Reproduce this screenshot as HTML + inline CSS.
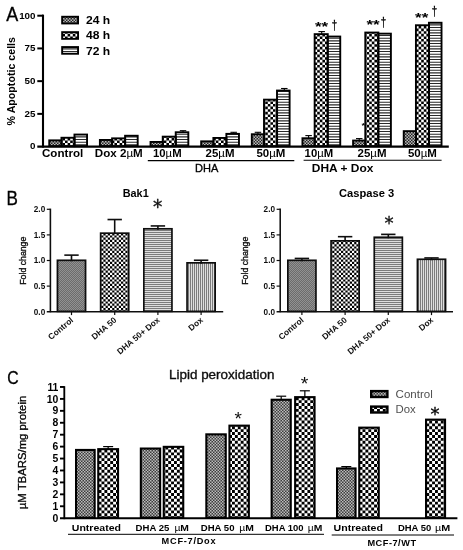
<!DOCTYPE html>
<html lang="en"><head><meta charset="utf-8"><title>Figure</title>
<style>html,body{margin:0;padding:0;background:#fff}body{width:463px;height:550px;overflow:hidden}svg{display:block;font-family:"Liberation Sans",Arial,sans-serif}</style></head><body>
<svg width="463" height="550" viewBox="0 0 463 550">
<defs>
<pattern id="a24" x="0" y="0" width="3" height="3" patternUnits="userSpaceOnUse"><rect width="3" height="3" fill="#262626"/><path d="M0 0h1.5v1.5h-1.5zM1.5 1.5h1.5v1.5h-1.5z" fill="#b8b8b8"/></pattern>
<pattern id="a48" x="0" y="0" width="26" height="26" patternUnits="userSpaceOnUse"><rect width="26" height="26" fill="#000"/><path d="M0 0h2.6v2.6h-2.6zM5.2 0h2.6v2.6h-2.6zM10.4 0h2.6v2.6h-2.6zM15.6 0h2.6v2.6h-2.6zM20.8 0h2.6v2.6h-2.6zM2.6 2.6h2.6v2.6h-2.6zM7.8 2.6h2.6v2.6h-2.6zM13 2.6h2.6v2.6h-2.6zM18.2 2.6h2.6v2.6h-2.6zM23.4 2.6h2.6v2.6h-2.6zM0 5.2h2.6v2.6h-2.6zM5.2 5.2h2.6v2.6h-2.6zM10.4 5.2h2.6v2.6h-2.6zM15.6 5.2h2.6v2.6h-2.6zM20.8 5.2h2.6v2.6h-2.6zM2.6 7.8h2.6v2.6h-2.6zM7.8 7.8h2.6v2.6h-2.6zM13 7.8h2.6v2.6h-2.6zM18.2 7.8h2.6v2.6h-2.6zM23.4 7.8h2.6v2.6h-2.6zM0 10.4h2.6v2.6h-2.6zM5.2 10.4h2.6v2.6h-2.6zM10.4 10.4h2.6v2.6h-2.6zM15.6 10.4h2.6v2.6h-2.6zM20.8 10.4h2.6v2.6h-2.6zM2.6 13h2.6v2.6h-2.6zM7.8 13h2.6v2.6h-2.6zM13 13h2.6v2.6h-2.6zM18.2 13h2.6v2.6h-2.6zM23.4 13h2.6v2.6h-2.6zM0 15.6h2.6v2.6h-2.6zM5.2 15.6h2.6v2.6h-2.6zM10.4 15.6h2.6v2.6h-2.6zM15.6 15.6h2.6v2.6h-2.6zM20.8 15.6h2.6v2.6h-2.6zM2.6 18.2h2.6v2.6h-2.6zM7.8 18.2h2.6v2.6h-2.6zM13 18.2h2.6v2.6h-2.6zM18.2 18.2h2.6v2.6h-2.6zM23.4 18.2h2.6v2.6h-2.6zM0 20.8h2.6v2.6h-2.6zM5.2 20.8h2.6v2.6h-2.6zM10.4 20.8h2.6v2.6h-2.6zM15.6 20.8h2.6v2.6h-2.6zM20.8 20.8h2.6v2.6h-2.6zM2.6 23.4h2.6v2.6h-2.6zM7.8 23.4h2.6v2.6h-2.6zM13 23.4h2.6v2.6h-2.6zM18.2 23.4h2.6v2.6h-2.6zM23.4 23.4h2.6v2.6h-2.6z" fill="#fff"/></pattern>
<pattern id="a72" width="8" height="8" patternUnits="userSpaceOnUse"><rect width="8" height="8" fill="#fff"/><path d="M0 0.3h8v1.15h-8zM0 2.97h8v1.15h-8zM0 5.63h8v1.15h-8z" fill="#2a2a2a"/></pattern>
<pattern id="b1" x="0" y="0" width="2" height="2" patternUnits="userSpaceOnUse"><rect width="2" height="2" fill="#6c6c6c"/><path d="M0 0h1v1h-1zM1 1h1v1h-1z" fill="#929292"/></pattern>
<pattern id="b2" x="0" y="0" width="22" height="22" patternUnits="userSpaceOnUse"><rect width="22" height="22" fill="#000"/><path d="M0 0h2.2v2.2h-2.2zM4.4 0h2.2v2.2h-2.2zM8.8 0h2.2v2.2h-2.2zM13.2 0h2.2v2.2h-2.2zM17.6 0h2.2v2.2h-2.2zM2.2 2.2h2.2v2.2h-2.2zM6.6 2.2h2.2v2.2h-2.2zM11 2.2h2.2v2.2h-2.2zM15.4 2.2h2.2v2.2h-2.2zM19.8 2.2h2.2v2.2h-2.2zM0 4.4h2.2v2.2h-2.2zM4.4 4.4h2.2v2.2h-2.2zM8.8 4.4h2.2v2.2h-2.2zM13.2 4.4h2.2v2.2h-2.2zM17.6 4.4h2.2v2.2h-2.2zM2.2 6.6h2.2v2.2h-2.2zM6.6 6.6h2.2v2.2h-2.2zM11 6.6h2.2v2.2h-2.2zM15.4 6.6h2.2v2.2h-2.2zM19.8 6.6h2.2v2.2h-2.2zM0 8.8h2.2v2.2h-2.2zM4.4 8.8h2.2v2.2h-2.2zM8.8 8.8h2.2v2.2h-2.2zM13.2 8.8h2.2v2.2h-2.2zM17.6 8.8h2.2v2.2h-2.2zM2.2 11h2.2v2.2h-2.2zM6.6 11h2.2v2.2h-2.2zM11 11h2.2v2.2h-2.2zM15.4 11h2.2v2.2h-2.2zM19.8 11h2.2v2.2h-2.2zM0 13.2h2.2v2.2h-2.2zM4.4 13.2h2.2v2.2h-2.2zM8.8 13.2h2.2v2.2h-2.2zM13.2 13.2h2.2v2.2h-2.2zM17.6 13.2h2.2v2.2h-2.2zM2.2 15.4h2.2v2.2h-2.2zM6.6 15.4h2.2v2.2h-2.2zM11 15.4h2.2v2.2h-2.2zM15.4 15.4h2.2v2.2h-2.2zM19.8 15.4h2.2v2.2h-2.2zM0 17.6h2.2v2.2h-2.2zM4.4 17.6h2.2v2.2h-2.2zM8.8 17.6h2.2v2.2h-2.2zM13.2 17.6h2.2v2.2h-2.2zM17.6 17.6h2.2v2.2h-2.2zM2.2 19.8h2.2v2.2h-2.2zM6.6 19.8h2.2v2.2h-2.2zM11 19.8h2.2v2.2h-2.2zM15.4 19.8h2.2v2.2h-2.2zM19.8 19.8h2.2v2.2h-2.2z" fill="#fff"/></pattern>
<pattern id="b3" width="8" height="2" patternUnits="userSpaceOnUse"><rect width="8" height="2" fill="#dedede"/><path d="M0 0h8v1h-8z" fill="#7c7c7c"/></pattern>
<pattern id="b4" width="2" height="8" patternUnits="userSpaceOnUse"><rect width="2" height="8" fill="#dedede"/><path d="M0 0v8h1v-8z" fill="#7c7c7c"/></pattern>
<pattern id="c1" x="0" y="0" width="3" height="3" patternUnits="userSpaceOnUse"><rect width="3" height="3" fill="#3c3c3c"/><path d="M0 0h1.5v1.5h-1.5zM1.5 1.5h1.5v1.5h-1.5z" fill="#bcbcbc"/></pattern>
<pattern id="c2" x="0" y="0" width="29" height="29" patternUnits="userSpaceOnUse"><rect width="29" height="29" fill="#000"/><path d="M0 0h2.9v2.9h-2.9zM5.8 0h2.9v2.9h-2.9zM11.6 0h2.9v2.9h-2.9zM17.4 0h2.9v2.9h-2.9zM23.2 0h2.9v2.9h-2.9zM2.9 2.9h2.9v2.9h-2.9zM8.7 2.9h2.9v2.9h-2.9zM14.5 2.9h2.9v2.9h-2.9zM20.3 2.9h2.9v2.9h-2.9zM26.1 2.9h2.9v2.9h-2.9zM0 5.8h2.9v2.9h-2.9zM5.8 5.8h2.9v2.9h-2.9zM11.6 5.8h2.9v2.9h-2.9zM17.4 5.8h2.9v2.9h-2.9zM23.2 5.8h2.9v2.9h-2.9zM2.9 8.7h2.9v2.9h-2.9zM8.7 8.7h2.9v2.9h-2.9zM14.5 8.7h2.9v2.9h-2.9zM20.3 8.7h2.9v2.9h-2.9zM26.1 8.7h2.9v2.9h-2.9zM0 11.6h2.9v2.9h-2.9zM5.8 11.6h2.9v2.9h-2.9zM11.6 11.6h2.9v2.9h-2.9zM17.4 11.6h2.9v2.9h-2.9zM23.2 11.6h2.9v2.9h-2.9zM2.9 14.5h2.9v2.9h-2.9zM8.7 14.5h2.9v2.9h-2.9zM14.5 14.5h2.9v2.9h-2.9zM20.3 14.5h2.9v2.9h-2.9zM26.1 14.5h2.9v2.9h-2.9zM0 17.4h2.9v2.9h-2.9zM5.8 17.4h2.9v2.9h-2.9zM11.6 17.4h2.9v2.9h-2.9zM17.4 17.4h2.9v2.9h-2.9zM23.2 17.4h2.9v2.9h-2.9zM2.9 20.3h2.9v2.9h-2.9zM8.7 20.3h2.9v2.9h-2.9zM14.5 20.3h2.9v2.9h-2.9zM20.3 20.3h2.9v2.9h-2.9zM26.1 20.3h2.9v2.9h-2.9zM0 23.2h2.9v2.9h-2.9zM5.8 23.2h2.9v2.9h-2.9zM11.6 23.2h2.9v2.9h-2.9zM17.4 23.2h2.9v2.9h-2.9zM23.2 23.2h2.9v2.9h-2.9zM2.9 26.1h2.9v2.9h-2.9zM8.7 26.1h2.9v2.9h-2.9zM14.5 26.1h2.9v2.9h-2.9zM20.3 26.1h2.9v2.9h-2.9zM26.1 26.1h2.9v2.9h-2.9z" fill="#fff"/></pattern>
<filter id="soft" filterUnits="userSpaceOnUse" x="0" y="0" width="463" height="550"><feGaussianBlur stdDeviation="0.45"/></filter>
<filter id="softf" filterUnits="userSpaceOnUse" x="0" y="0" width="463" height="550"><feGaussianBlur stdDeviation="0.3"/></filter>
</defs>
<rect width="463" height="550" fill="#fff"/>
<g id="fills" filter="url(#softf)">
<rect x="49.25" y="140.35" width="12.3" height="5.8" fill="url(#a24)"/>
<rect x="74.45" y="134.55" width="12.6" height="11.6" fill="url(#a72)"/>
<rect x="61.45" y="137.75" width="13.1" height="8.4" fill="url(#a48)"/>
<rect x="99.89" y="139.95" width="12.3" height="6.2" fill="url(#a24)"/>
<rect x="125.09" y="135.75" width="12.6" height="10.4" fill="url(#a72)"/>
<rect x="112.09" y="138.35" width="13.1" height="7.8" fill="url(#a48)"/>
<rect x="150.53" y="141.95" width="12.3" height="4.2" fill="url(#a24)"/>
<rect x="175.73" y="132.25" width="12.6" height="13.9" fill="url(#a72)"/>
<rect x="162.73" y="136.65" width="13.1" height="9.5" fill="url(#a48)"/>
<rect x="201.17" y="141.35" width="12.3" height="4.8" fill="url(#a24)"/>
<rect x="226.37" y="133.85" width="12.6" height="12.3" fill="url(#a72)"/>
<rect x="213.37" y="137.95" width="13.1" height="8.2" fill="url(#a48)"/>
<rect x="251.81" y="134.25" width="12.3" height="11.9" fill="url(#a24)"/>
<rect x="277.01" y="90.55" width="12.6" height="55.6" fill="url(#a72)"/>
<rect x="264.01" y="99.65" width="13.1" height="46.5" fill="url(#a48)"/>
<rect x="302.45" y="138.25" width="12.3" height="7.9" fill="url(#a24)"/>
<rect x="327.65" y="36.55" width="12.6" height="109.6" fill="url(#a72)"/>
<rect x="314.65" y="34.15" width="13.1" height="112" fill="url(#a48)"/>
<rect x="353.09" y="140.55" width="12.3" height="5.6" fill="url(#a24)"/>
<rect x="378.29" y="33.65" width="12.6" height="112.5" fill="url(#a72)"/>
<rect x="365.29" y="32.55" width="13.1" height="113.6" fill="url(#a48)"/>
<rect x="403.73" y="131.15" width="12.3" height="15" fill="url(#a24)"/>
<rect x="428.93" y="22.75" width="12.6" height="123.4" fill="url(#a72)"/>
<rect x="415.93" y="25.25" width="13.1" height="120.9" fill="url(#a48)"/>
<rect x="62.15" y="16.75" width="15.9" height="6.7" fill="url(#a24)"/>
<rect x="62.15" y="32.15" width="15.9" height="6.7" fill="url(#a48)"/>
<rect x="62.15" y="47.05" width="15.9" height="6.7" fill="url(#a72)"/>
<rect x="57.45" y="260.29" width="28.1" height="51.06" fill="url(#b1)"/>
<rect x="100.65" y="233.16" width="28.1" height="78.19" fill="url(#b2)"/>
<rect x="143.85" y="228.81" width="28.1" height="82.54" fill="url(#b3)"/>
<rect x="187.05" y="262.85" width="28.1" height="48.5" fill="url(#b4)"/>
<rect x="287.85" y="260.29" width="28.1" height="51.06" fill="url(#b1)"/>
<rect x="331.05" y="240.84" width="28.1" height="70.51" fill="url(#b2)"/>
<rect x="374.25" y="237.25" width="28.1" height="74.1" fill="url(#b3)"/>
<rect x="417.45" y="259.27" width="28.1" height="52.08" fill="url(#b4)"/>
<rect x="76.05" y="449.95" width="18.6" height="67.7" fill="url(#c1)"/>
<rect x="98.25" y="449.15" width="19.8" height="68.5" fill="url(#c2)"/>
<rect x="140.85" y="448.55" width="19.3" height="69.1" fill="url(#c1)"/>
<rect x="163.75" y="446.85" width="19.5" height="70.8" fill="url(#c2)"/>
<rect x="206.35" y="434.35" width="19.4" height="83.3" fill="url(#c1)"/>
<rect x="229.45" y="425.65" width="19.4" height="92" fill="url(#c2)"/>
<rect x="271.65" y="399.75" width="19.1" height="117.9" fill="url(#c1)"/>
<rect x="295.15" y="397.15" width="19.4" height="120.5" fill="url(#c2)"/>
<rect x="337.05" y="468.45" width="18.5" height="49.2" fill="url(#c1)"/>
<rect x="359.25" y="427.65" width="19.5" height="90" fill="url(#c2)"/>
<rect x="426.05" y="419.65" width="19" height="98" fill="url(#c2)"/>
<rect x="371.2" y="391.1" width="16.2" height="5.9" fill="url(#c1)"/>
<rect x="371.2" y="406.6" width="16.2" height="5.9" fill="url(#c2)"/>
</g>
<g filter="url(#soft)">
<g id="panelA">
<text x="6.3" y="20.9" font-size="19.5" textLength="12" lengthAdjust="spacingAndGlyphs" stroke="#000" stroke-width="0.3">A</text>
<rect x="49.25" y="140.35" width="12.3" height="5.8" fill="none" stroke="#000" stroke-width="1.9"/>
<rect x="74.45" y="134.55" width="12.6" height="11.6" fill="none" stroke="#000" stroke-width="1.9"/>
<rect x="61.45" y="137.75" width="13.1" height="8.4" fill="none" stroke="#000" stroke-width="1.9"/>
<rect x="99.89" y="139.95" width="12.3" height="6.2" fill="none" stroke="#000" stroke-width="1.9"/>
<rect x="125.09" y="135.75" width="12.6" height="10.4" fill="none" stroke="#000" stroke-width="1.9"/>
<rect x="112.09" y="138.35" width="13.1" height="7.8" fill="none" stroke="#000" stroke-width="1.9"/>
<line x1="183.03" y1="132.3" x2="183.03" y2="130.7" stroke="#000" stroke-width="1.1"/>
<line x1="179.78" y1="130.7" x2="186.28" y2="130.7" stroke="#000" stroke-width="1.1"/>
<rect x="150.53" y="141.95" width="12.3" height="4.2" fill="none" stroke="#000" stroke-width="1.9"/>
<rect x="175.73" y="132.25" width="12.6" height="13.9" fill="none" stroke="#000" stroke-width="1.9"/>
<rect x="162.73" y="136.65" width="13.1" height="9.5" fill="none" stroke="#000" stroke-width="1.9"/>
<line x1="233.67" y1="133.9" x2="233.67" y2="132.3" stroke="#000" stroke-width="1.1"/>
<line x1="230.42" y1="132.3" x2="236.92" y2="132.3" stroke="#000" stroke-width="1.1"/>
<rect x="201.17" y="141.35" width="12.3" height="4.8" fill="none" stroke="#000" stroke-width="1.9"/>
<rect x="226.37" y="133.85" width="12.6" height="12.3" fill="none" stroke="#000" stroke-width="1.9"/>
<rect x="213.37" y="137.95" width="13.1" height="8.2" fill="none" stroke="#000" stroke-width="1.9"/>
<line x1="257.96" y1="134.3" x2="257.96" y2="132.3" stroke="#000" stroke-width="1.1"/>
<line x1="254.71" y1="132.3" x2="261.21" y2="132.3" stroke="#000" stroke-width="1.1"/>
<line x1="284.31" y1="90.6" x2="284.31" y2="88.5" stroke="#000" stroke-width="1.1"/>
<line x1="281.06" y1="88.5" x2="287.56" y2="88.5" stroke="#000" stroke-width="1.1"/>
<rect x="251.81" y="134.25" width="12.3" height="11.9" fill="none" stroke="#000" stroke-width="1.9"/>
<rect x="277.01" y="90.55" width="12.6" height="55.6" fill="none" stroke="#000" stroke-width="1.9"/>
<rect x="264.01" y="99.65" width="13.1" height="46.5" fill="none" stroke="#000" stroke-width="1.9"/>
<line x1="308.6" y1="138.3" x2="308.6" y2="135.6" stroke="#000" stroke-width="1.1"/>
<line x1="305.35" y1="135.6" x2="311.85" y2="135.6" stroke="#000" stroke-width="1.1"/>
<line x1="321.7" y1="34.2" x2="321.7" y2="31.6" stroke="#000" stroke-width="1.1"/>
<line x1="318.45" y1="31.6" x2="324.95" y2="31.6" stroke="#000" stroke-width="1.1"/>
<rect x="302.45" y="138.25" width="12.3" height="7.9" fill="none" stroke="#000" stroke-width="1.9"/>
<rect x="327.65" y="36.55" width="12.6" height="109.6" fill="none" stroke="#000" stroke-width="1.9"/>
<rect x="314.65" y="34.15" width="13.1" height="112" fill="none" stroke="#000" stroke-width="1.9"/>
<line x1="359.24" y1="140.6" x2="359.24" y2="138.6" stroke="#000" stroke-width="1.1"/>
<line x1="355.99" y1="138.6" x2="362.49" y2="138.6" stroke="#000" stroke-width="1.1"/>
<rect x="353.09" y="140.55" width="12.3" height="5.6" fill="none" stroke="#000" stroke-width="1.9"/>
<rect x="378.29" y="33.65" width="12.6" height="112.5" fill="none" stroke="#000" stroke-width="1.9"/>
<rect x="365.29" y="32.55" width="13.1" height="113.6" fill="none" stroke="#000" stroke-width="1.9"/>
<rect x="403.73" y="131.15" width="12.3" height="15" fill="none" stroke="#000" stroke-width="1.9"/>
<rect x="428.93" y="22.75" width="12.6" height="123.4" fill="none" stroke="#000" stroke-width="1.9"/>
<rect x="415.93" y="25.25" width="13.1" height="120.9" fill="none" stroke="#000" stroke-width="1.9"/>
<line x1="43" y1="14.6" x2="43" y2="147.6" stroke="#000" stroke-width="2.1"/>
<line x1="37.3" y1="146.6" x2="448.8" y2="146.6" stroke="#000" stroke-width="2.1"/>
<line x1="37.3" y1="113.88" x2="43" y2="113.88" stroke="#000" stroke-width="2"/>
<line x1="37.3" y1="81.15" x2="43" y2="81.15" stroke="#000" stroke-width="2"/>
<line x1="37.3" y1="48.42" x2="43" y2="48.42" stroke="#000" stroke-width="2"/>
<line x1="37.3" y1="15.7" x2="43" y2="15.7" stroke="#000" stroke-width="2"/>
<text x="35.5" y="149.4" font-size="9.8" font-weight="bold" text-anchor="end">0</text>
<text x="35.5" y="116.67" font-size="9.8" font-weight="bold" text-anchor="end">25</text>
<text x="35.5" y="83.95" font-size="9.8" font-weight="bold" text-anchor="end">50</text>
<text x="35.5" y="51.22" font-size="9.8" font-weight="bold" text-anchor="end">75</text>
<text x="35.5" y="18.5" font-size="9.8" font-weight="bold" text-anchor="end">100</text>
<text x="15.3" y="81.2" font-size="10.6" font-weight="bold" text-anchor="middle" textLength="88.4" lengthAdjust="spacingAndGlyphs" transform="rotate(-90 15.3 81.2)">% Apoptotic cells</text>
<rect x="62.15" y="16.75" width="15.9" height="6.7" fill="none" stroke="#000" stroke-width="1.9"/>
<text x="86" y="23.8" font-size="10.3" font-weight="bold" textLength="24.2" lengthAdjust="spacingAndGlyphs">24 h</text>
<rect x="62.15" y="32.15" width="15.9" height="6.7" fill="none" stroke="#000" stroke-width="1.9"/>
<text x="86" y="39.4" font-size="10.3" font-weight="bold" textLength="24.2" lengthAdjust="spacingAndGlyphs">48 h</text>
<rect x="62.15" y="47.05" width="15.9" height="6.7" fill="none" stroke="#000" stroke-width="1.9"/>
<text x="86" y="54.9" font-size="10.3" font-weight="bold" textLength="24.2" lengthAdjust="spacingAndGlyphs">72 h</text>
<text x="42" y="157" font-size="10.1" font-weight="bold" textLength="41.2" lengthAdjust="spacingAndGlyphs">Control</text>
<text x="94.8" y="157" font-size="10.1" font-weight="bold" textLength="48" lengthAdjust="spacingAndGlyphs">Dox 2<tspan font-weight="normal">µ</tspan>M</text>
<text x="153" y="157" font-size="10.1" font-weight="bold" textLength="28.6" lengthAdjust="spacingAndGlyphs">10<tspan font-weight="normal">µ</tspan>M</text>
<text x="205.6" y="157" font-size="10.1" font-weight="bold" textLength="29" lengthAdjust="spacingAndGlyphs">25<tspan font-weight="normal">µ</tspan>M</text>
<text x="256.4" y="157" font-size="10.1" font-weight="bold" textLength="29" lengthAdjust="spacingAndGlyphs">50<tspan font-weight="normal">µ</tspan>M</text>
<text x="304.6" y="157" font-size="10.1" font-weight="bold" textLength="28.6" lengthAdjust="spacingAndGlyphs">10<tspan font-weight="normal">µ</tspan>M</text>
<text x="357.6" y="157" font-size="10.1" font-weight="bold" textLength="29" lengthAdjust="spacingAndGlyphs">25<tspan font-weight="normal">µ</tspan>M</text>
<text x="407.9" y="157" font-size="10.1" font-weight="bold" textLength="29" lengthAdjust="spacingAndGlyphs">50<tspan font-weight="normal">µ</tspan>M</text>
<line x1="147.8" y1="160.6" x2="294.3" y2="160.6" stroke="#000" stroke-width="1.1"/>
<line x1="303.6" y1="160.2" x2="441.6" y2="160.2" stroke="#000" stroke-width="1.1"/>
<text x="195" y="171.9" font-size="10.1" textLength="23.3" lengthAdjust="spacingAndGlyphs" stroke="#000" stroke-width="0.3">DHA</text>
<text x="311.8" y="171.7" font-size="10.6" font-weight="bold" textLength="61.6" lengthAdjust="spacingAndGlyphs">DHA + Dox</text>
<text x="314.9" y="30.8" font-size="13.6" font-weight="bold" textLength="13.2" lengthAdjust="spacingAndGlyphs">**</text>
<text x="331.7" y="28.6" font-size="12" textLength="5.4" lengthAdjust="spacingAndGlyphs" stroke="#000" stroke-width="0.3">†</text>
<text x="366.5" y="29.4" font-size="13.6" font-weight="bold" textLength="13.2" lengthAdjust="spacingAndGlyphs">**</text>
<text x="380.8" y="26.2" font-size="12" textLength="5.4" lengthAdjust="spacingAndGlyphs" stroke="#000" stroke-width="0.3">†</text>
<text x="415.1" y="21.6" font-size="13.6" font-weight="bold" textLength="13.2" lengthAdjust="spacingAndGlyphs">**</text>
<text x="431.8" y="15" font-size="12" textLength="5.4" lengthAdjust="spacingAndGlyphs" stroke="#000" stroke-width="0.3">†</text>
<text x="361.4" y="128.2" font-size="8" font-weight="bold" textLength="3.6" lengthAdjust="spacingAndGlyphs">*</text>
</g>
<g id="panelB">
<text x="6.4" y="204.9" font-size="19.3" textLength="11.4" lengthAdjust="spacingAndGlyphs" stroke="#000" stroke-width="0.3">B</text>
<line x1="71.5" y1="261.24" x2="71.5" y2="255.12" stroke="#111" stroke-width="1.6"/>
<line x1="64.3" y1="255.12" x2="78.7" y2="255.12" stroke="#111" stroke-width="1.6"/>
<rect x="57.45" y="260.29" width="28.1" height="51.06" fill="none" stroke="#111" stroke-width="1.7"/>
<line x1="71.5" y1="311.7" x2="71.5" y2="315.1" stroke="#111" stroke-width="1.2"/>
<line x1="114.7" y1="234.11" x2="114.7" y2="219.54" stroke="#111" stroke-width="1.6"/>
<line x1="107.5" y1="219.54" x2="121.9" y2="219.54" stroke="#111" stroke-width="1.6"/>
<rect x="100.65" y="233.16" width="28.1" height="78.19" fill="none" stroke="#111" stroke-width="1.7"/>
<line x1="114.7" y1="311.7" x2="114.7" y2="315.1" stroke="#111" stroke-width="1.2"/>
<line x1="157.9" y1="229.76" x2="157.9" y2="225.94" stroke="#111" stroke-width="1.6"/>
<line x1="150.7" y1="225.94" x2="165.1" y2="225.94" stroke="#111" stroke-width="1.6"/>
<rect x="143.85" y="228.81" width="28.1" height="82.54" fill="none" stroke="#111" stroke-width="1.7"/>
<line x1="157.9" y1="311.7" x2="157.9" y2="315.1" stroke="#111" stroke-width="1.2"/>
<line x1="201.1" y1="263.8" x2="201.1" y2="260.24" stroke="#111" stroke-width="1.6"/>
<line x1="193.9" y1="260.24" x2="208.3" y2="260.24" stroke="#111" stroke-width="1.6"/>
<rect x="187.05" y="262.85" width="28.1" height="48.5" fill="none" stroke="#111" stroke-width="1.7"/>
<line x1="201.1" y1="311.7" x2="201.1" y2="315.1" stroke="#111" stroke-width="1.2"/>
<line x1="50.4" y1="208.6" x2="50.4" y2="312.3" stroke="#111" stroke-width="1.55"/>
<line x1="46.8" y1="311.7" x2="223.2" y2="311.7" stroke="#111" stroke-width="1.55"/>
<line x1="46.8" y1="286.1" x2="50.4" y2="286.1" stroke="#111" stroke-width="1.2"/>
<line x1="46.8" y1="260.5" x2="50.4" y2="260.5" stroke="#111" stroke-width="1.2"/>
<line x1="46.8" y1="234.9" x2="50.4" y2="234.9" stroke="#111" stroke-width="1.2"/>
<line x1="46.8" y1="209.3" x2="50.4" y2="209.3" stroke="#111" stroke-width="1.2"/>
<text x="45.2" y="314.6" font-size="8.2" font-weight="bold" text-anchor="end" fill="#111">0.0</text>
<text x="45.2" y="289" font-size="8.2" font-weight="bold" text-anchor="end" fill="#111">0.5</text>
<text x="45.2" y="263.4" font-size="8.2" font-weight="bold" text-anchor="end" fill="#111">1.0</text>
<text x="45.2" y="237.8" font-size="8.2" font-weight="bold" text-anchor="end" fill="#111">1.5</text>
<text x="45.2" y="212.2" font-size="8.2" font-weight="bold" text-anchor="end" fill="#111">2.0</text>
<text x="26.1" y="260.7" font-size="9.2" text-anchor="middle" textLength="48" lengthAdjust="spacingAndGlyphs" fill="#111" transform="rotate(-90 26.1 260.7)" stroke="#111" stroke-width="0.35">Fold change</text>
<text x="122.7" y="196.5" font-size="10.3" font-weight="bold" textLength="26" lengthAdjust="spacingAndGlyphs">Bak1</text>
<text x="73.9" y="321" font-size="8.4" font-weight="bold" text-anchor="end" fill="#111" transform="rotate(-40 73.9 321)">Control</text>
<text x="117.1" y="321" font-size="8.4" font-weight="bold" text-anchor="end" fill="#111" transform="rotate(-40 117.1 321)">DHA 50</text>
<text x="160.3" y="321" font-size="8.4" font-weight="bold" text-anchor="end" fill="#111" transform="rotate(-40 160.3 321)">DHA 50+ Dox</text>
<text x="203.5" y="321" font-size="8.4" font-weight="bold" text-anchor="end" fill="#111" transform="rotate(-40 203.5 321)">Dox</text>
<text x="153.1" y="213.3" font-size="18.6" fill="#111" font-family="DejaVu Sans" stroke="#111" stroke-width="0.35">*</text>
<line x1="301.9" y1="261.24" x2="301.9" y2="258.45" stroke="#111" stroke-width="1.6"/>
<line x1="294.7" y1="258.45" x2="309.1" y2="258.45" stroke="#111" stroke-width="1.6"/>
<rect x="287.85" y="260.29" width="28.1" height="51.06" fill="none" stroke="#111" stroke-width="1.7"/>
<line x1="301.9" y1="311.7" x2="301.9" y2="315.1" stroke="#111" stroke-width="1.2"/>
<line x1="345.1" y1="241.79" x2="345.1" y2="236.69" stroke="#111" stroke-width="1.6"/>
<line x1="337.9" y1="236.69" x2="352.3" y2="236.69" stroke="#111" stroke-width="1.6"/>
<rect x="331.05" y="240.84" width="28.1" height="70.51" fill="none" stroke="#111" stroke-width="1.7"/>
<line x1="345.1" y1="311.7" x2="345.1" y2="315.1" stroke="#111" stroke-width="1.2"/>
<line x1="388.3" y1="238.2" x2="388.3" y2="234.39" stroke="#111" stroke-width="1.6"/>
<line x1="381.1" y1="234.39" x2="395.5" y2="234.39" stroke="#111" stroke-width="1.6"/>
<rect x="374.25" y="237.25" width="28.1" height="74.1" fill="none" stroke="#111" stroke-width="1.7"/>
<line x1="388.3" y1="311.7" x2="388.3" y2="315.1" stroke="#111" stroke-width="1.2"/>
<line x1="431.5" y1="260.22" x2="431.5" y2="257.94" stroke="#111" stroke-width="1.6"/>
<line x1="424.3" y1="257.94" x2="438.7" y2="257.94" stroke="#111" stroke-width="1.6"/>
<rect x="417.45" y="259.27" width="28.1" height="52.08" fill="none" stroke="#111" stroke-width="1.7"/>
<line x1="431.5" y1="311.7" x2="431.5" y2="315.1" stroke="#111" stroke-width="1.2"/>
<line x1="280.2" y1="208.6" x2="280.2" y2="312.3" stroke="#111" stroke-width="1.55"/>
<line x1="276.6" y1="311.7" x2="453" y2="311.7" stroke="#111" stroke-width="1.55"/>
<line x1="276.6" y1="286.1" x2="280.2" y2="286.1" stroke="#111" stroke-width="1.2"/>
<line x1="276.6" y1="260.5" x2="280.2" y2="260.5" stroke="#111" stroke-width="1.2"/>
<line x1="276.6" y1="234.9" x2="280.2" y2="234.9" stroke="#111" stroke-width="1.2"/>
<line x1="276.6" y1="209.3" x2="280.2" y2="209.3" stroke="#111" stroke-width="1.2"/>
<text x="275" y="314.6" font-size="8.2" font-weight="bold" text-anchor="end" fill="#111">0.0</text>
<text x="275" y="289" font-size="8.2" font-weight="bold" text-anchor="end" fill="#111">0.5</text>
<text x="275" y="263.4" font-size="8.2" font-weight="bold" text-anchor="end" fill="#111">1.0</text>
<text x="275" y="237.8" font-size="8.2" font-weight="bold" text-anchor="end" fill="#111">1.5</text>
<text x="275" y="212.2" font-size="8.2" font-weight="bold" text-anchor="end" fill="#111">2.0</text>
<text x="248.2" y="260.7" font-size="9.2" text-anchor="middle" textLength="48" lengthAdjust="spacingAndGlyphs" fill="#111" transform="rotate(-90 248.2 260.7)" stroke="#111" stroke-width="0.35">Fold change</text>
<text x="339" y="196.5" font-size="10.3" font-weight="bold" textLength="55.2" lengthAdjust="spacingAndGlyphs">Caspase 3</text>
<text x="304.3" y="321" font-size="8.4" font-weight="bold" text-anchor="end" fill="#111" transform="rotate(-40 304.3 321)">Control</text>
<text x="347.5" y="321" font-size="8.4" font-weight="bold" text-anchor="end" fill="#111" transform="rotate(-40 347.5 321)">DHA 50</text>
<text x="390.7" y="321" font-size="8.4" font-weight="bold" text-anchor="end" fill="#111" transform="rotate(-40 390.7 321)">DHA 50+ Dox</text>
<text x="433.9" y="321" font-size="8.4" font-weight="bold" text-anchor="end" fill="#111" transform="rotate(-40 433.9 321)">Dox</text>
<text x="384.5" y="229.3" font-size="18.2" fill="#111" font-family="DejaVu Sans" stroke="#111" stroke-width="0.35">*</text>
</g>
<g id="panelC">
<text x="7.2" y="383.7" font-size="18.6" textLength="11.4" lengthAdjust="spacingAndGlyphs" stroke="#000" stroke-width="0.3">C</text>
<rect x="76.05" y="449.95" width="18.6" height="67.7" fill="none" stroke="#000" stroke-width="2.1"/>
<line x1="108.15" y1="449.1" x2="108.15" y2="446.6" stroke="#000" stroke-width="1.2"/>
<line x1="103.15" y1="446.6" x2="113.15" y2="446.6" stroke="#000" stroke-width="1.2"/>
<rect x="98.25" y="449.15" width="19.8" height="68.5" fill="none" stroke="#000" stroke-width="2.1"/>
<rect x="140.85" y="448.55" width="19.3" height="69.1" fill="none" stroke="#000" stroke-width="2.1"/>
<rect x="163.75" y="446.85" width="19.5" height="70.8" fill="none" stroke="#000" stroke-width="2.1"/>
<rect x="206.35" y="434.35" width="19.4" height="83.3" fill="none" stroke="#000" stroke-width="2.1"/>
<rect x="229.45" y="425.65" width="19.4" height="92" fill="none" stroke="#000" stroke-width="2.1"/>
<line x1="281.2" y1="399.7" x2="281.2" y2="396.2" stroke="#000" stroke-width="1.2"/>
<line x1="276.2" y1="396.2" x2="286.2" y2="396.2" stroke="#000" stroke-width="1.2"/>
<rect x="271.65" y="399.75" width="19.1" height="117.9" fill="none" stroke="#000" stroke-width="2.1"/>
<line x1="304.85" y1="397.1" x2="304.85" y2="390.8" stroke="#000" stroke-width="1.2"/>
<line x1="299.85" y1="390.8" x2="309.85" y2="390.8" stroke="#000" stroke-width="1.2"/>
<rect x="295.15" y="397.15" width="19.4" height="120.5" fill="none" stroke="#000" stroke-width="2.1"/>
<line x1="346.3" y1="468.4" x2="346.3" y2="466.6" stroke="#000" stroke-width="1.2"/>
<line x1="341.3" y1="466.6" x2="351.3" y2="466.6" stroke="#000" stroke-width="1.2"/>
<rect x="337.05" y="468.45" width="18.5" height="49.2" fill="none" stroke="#000" stroke-width="2.1"/>
<rect x="359.25" y="427.65" width="19.5" height="90" fill="none" stroke="#000" stroke-width="2.1"/>
<rect x="426.05" y="419.65" width="19" height="98" fill="none" stroke="#000" stroke-width="2.1"/>
<line x1="64.3" y1="386.2" x2="64.3" y2="519.2" stroke="#000" stroke-width="1.85"/>
<line x1="60" y1="518.2" x2="457.4" y2="518.2" stroke="#000" stroke-width="2"/>
<line x1="60" y1="506.27" x2="64.5" y2="506.27" stroke="#000" stroke-width="1.9"/>
<line x1="60" y1="494.34" x2="64.5" y2="494.34" stroke="#000" stroke-width="1.9"/>
<line x1="60" y1="482.41" x2="64.5" y2="482.41" stroke="#000" stroke-width="1.9"/>
<line x1="60" y1="470.48" x2="64.5" y2="470.48" stroke="#000" stroke-width="1.9"/>
<line x1="60" y1="458.55" x2="64.5" y2="458.55" stroke="#000" stroke-width="1.9"/>
<line x1="60" y1="446.62" x2="64.5" y2="446.62" stroke="#000" stroke-width="1.9"/>
<line x1="60" y1="434.69" x2="64.5" y2="434.69" stroke="#000" stroke-width="1.9"/>
<line x1="60" y1="422.76" x2="64.5" y2="422.76" stroke="#000" stroke-width="1.9"/>
<line x1="60" y1="410.83" x2="64.5" y2="410.83" stroke="#000" stroke-width="1.9"/>
<line x1="60" y1="398.9" x2="64.5" y2="398.9" stroke="#000" stroke-width="1.9"/>
<line x1="60" y1="386.97" x2="64.5" y2="386.97" stroke="#000" stroke-width="1.9"/>
<text x="58.4" y="521.8" font-size="10.4" font-weight="bold" text-anchor="end">0</text>
<text x="58.4" y="509.87" font-size="10.4" font-weight="bold" text-anchor="end">1</text>
<text x="58.4" y="497.94" font-size="10.4" font-weight="bold" text-anchor="end">2</text>
<text x="58.4" y="486.01" font-size="10.4" font-weight="bold" text-anchor="end">3</text>
<text x="58.4" y="474.08" font-size="10.4" font-weight="bold" text-anchor="end">4</text>
<text x="58.4" y="462.15" font-size="10.4" font-weight="bold" text-anchor="end">5</text>
<text x="58.4" y="450.22" font-size="10.4" font-weight="bold" text-anchor="end">6</text>
<text x="58.4" y="438.29" font-size="10.4" font-weight="bold" text-anchor="end">7</text>
<text x="58.4" y="426.36" font-size="10.4" font-weight="bold" text-anchor="end">8</text>
<text x="58.4" y="414.43" font-size="10.4" font-weight="bold" text-anchor="end">9</text>
<text x="58.4" y="402.5" font-size="10.4" font-weight="bold" text-anchor="end">10</text>
<text x="58.4" y="390.57" font-size="10.4" font-weight="bold" text-anchor="end">11</text>
<text x="26" y="452.5" font-size="10.9" text-anchor="middle" textLength="113.5" lengthAdjust="spacingAndGlyphs" transform="rotate(-90 26 452.5)" stroke="#000" stroke-width="0.3">µM TBARS/mg protein</text>
<text x="169" y="379" font-size="12.2" textLength="105.4" lengthAdjust="spacingAndGlyphs" fill="#111" stroke="#111" stroke-width="0.35">Lipid peroxidation</text>
<rect x="371.2" y="391.1" width="16.2" height="5.9" fill="none" stroke="#000" stroke-width="2.4"/>
<rect x="371.2" y="406.6" width="16.2" height="5.9" fill="none" stroke="#000" stroke-width="2.4"/>
<text x="395.6" y="397.8" font-size="11.8" textLength="37.2" lengthAdjust="spacingAndGlyphs" fill="#505050">Control</text>
<text x="395.6" y="412.9" font-size="11.8" textLength="20.2" lengthAdjust="spacingAndGlyphs" fill="#505050">Dox</text>
<text x="234.4" y="424.9" font-size="17.5" textLength="7.4" lengthAdjust="spacingAndGlyphs" fill="#111">*</text>
<text x="300.7" y="389.9" font-size="17.5" textLength="7.6" lengthAdjust="spacingAndGlyphs" fill="#111">*</text>
<text x="430.6" y="420.4" font-size="18" font-family="DejaVu Sans" stroke="#000" stroke-width="0.35">*</text>
<text x="71.8" y="531" font-size="9.5" font-weight="bold" textLength="49.2" lengthAdjust="spacingAndGlyphs">Untreated</text>
<text y="531" font-size="9.1" font-weight="bold"><tspan x="135.6" textLength="33.7" lengthAdjust="spacingAndGlyphs">DHA 25</tspan> <tspan x="174.4" textLength="14.6" lengthAdjust="spacingAndGlyphs"><tspan font-weight="normal">µ</tspan>M</tspan></text>
<text y="531" font-size="9.1" font-weight="bold"><tspan x="200.8" textLength="33.7" lengthAdjust="spacingAndGlyphs">DHA 50</tspan> <tspan x="239.2" textLength="14.6" lengthAdjust="spacingAndGlyphs"><tspan font-weight="normal">µ</tspan>M</tspan></text>
<text y="531" font-size="9.1" font-weight="bold"><tspan x="265" textLength="38.6" lengthAdjust="spacingAndGlyphs">DHA 100</tspan> <tspan x="307.8" textLength="14.6" lengthAdjust="spacingAndGlyphs"><tspan font-weight="normal">µ</tspan>M</tspan></text>
<text x="333.6" y="531" font-size="9.5" font-weight="bold" textLength="49.3" lengthAdjust="spacingAndGlyphs">Untreated</text>
<text y="531" font-size="9.1" font-weight="bold"><tspan x="397.9" textLength="33.3" lengthAdjust="spacingAndGlyphs">DHA 50</tspan> <tspan x="435" textLength="15.2" lengthAdjust="spacingAndGlyphs"><tspan font-weight="normal">µ</tspan>M</tspan></text>
<line x1="68" y1="534.3" x2="324" y2="534.3" stroke="#000" stroke-width="1"/>
<line x1="331.7" y1="535" x2="454" y2="535" stroke="#000" stroke-width="1"/>
<text x="161.6" y="544.4" font-size="9.2" font-weight="bold" textLength="54" lengthAdjust="spacing">MCF-7/Dox</text>
<text x="367.4" y="545.6" font-size="9.2" font-weight="bold" textLength="48.6" lengthAdjust="spacing">MCF-7/WT</text>
</g>
</g>
</svg>
</body></html>
